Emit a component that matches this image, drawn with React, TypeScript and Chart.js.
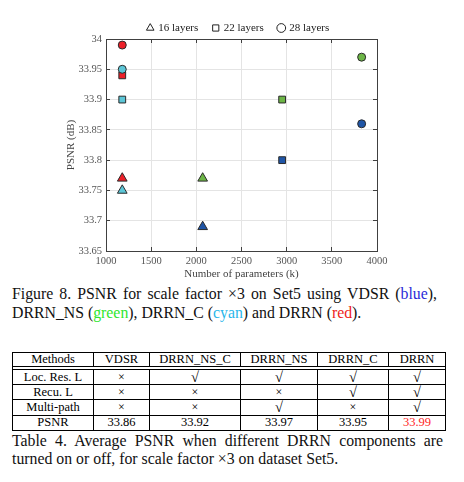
import React, { useEffect, useRef } from 'react';
import { Chart, registerables } from 'chart.js';

Chart.register(...registerables);

const SERIF = "'Liberation Serif', 'Times New Roman', serif";

// methods and their colours
const methodNames = ['VDSR', 'DRRN_NS', 'DRRN_C', 'DRRN'];
const methodColors = ['#1f55a6', '#6cb546', '#5cc6d7', '#ec1f28'];

// depth groups (legend)
const layerLabels = ['16 layers', '22 layers', '28 layers'];
const layerShapes = ['triangle', 'rect', 'circle'];
const layerRadii = [5.6, 4.8, 4];
const layerOrder = [2, 1, 0];

// number of parameters (k) and PSNR per method, depths 16 / 22 / 28
const vdsrParams = [2070, 2950, 3830];
const vdsrPsnr = [33.69, 33.8, 33.86];
const nsParams = [2070, 2950, 3830];
const nsPsnr = [33.77, 33.9, 33.97];
const cParams = [1180, 1180, 1180];
const cPsnr = [33.75, 33.9, 33.95];
const drrnParams = [1180, 1180, 1180];
const drrnPsnr = [33.77, 33.94, 33.99];

const xTickLabels = ['1000', '1500', '2000', '2500', '3000', '3500', '4000'];
const yTickLabels = ['33.65', '33.7', '33.75', '33.8', '33.85', '33.9', '33.95', '34'];

// table
const tableHeaders = ['Methods', 'VDSR', 'DRRN_NS_C', 'DRRN_NS', 'DRRN_C', 'DRRN'];
const rowLocRes = ['Loc. Res. L', '×', '√', '√', '√', '√'];
const rowRecu = ['Recu. L', '×', '×', '×', '√', '√'];
const rowMulti = ['Multi-path', '×', '×', '√', '×', '√'];
const rowPsnr = ['PSNR', '33.86', '33.92', '33.97', '33.95', '33.99'];
const colWidths = [81, 56, 91, 77, 71, 57];

const AXIS = '#404040';
const GRID = '#e4e4e4';

function ChartBox() {
  const ref = useRef<HTMLCanvasElement | null>(null);
  useEffect(() => {
    if (!ref.current) return;
    const params = [vdsrParams, nsParams, cParams, drrnParams];
    const psnr = [vdsrPsnr, nsPsnr, cPsnr, drrnPsnr];
    const datasets = layerLabels.map((label, li) => ({
      label,
      data: methodNames.map((_, mi) => ({ x: params[mi][li], y: psnr[mi][li] })),
      pointStyle: layerShapes[li],
      pointRadius: layerRadii[li],
      pointBackgroundColor: methodColors,
      pointBorderColor: '#2a2a2a',
      pointBorderWidth: 1,
      order: layerOrder[li],
      xAxisID: 'x',
      yAxisID: 'y',
    }));
    const tickFont = { family: SERIF, size: 10.5 };
    const chart = new Chart(ref.current, {
      type: 'scatter',
      data: { datasets: datasets as any },
      options: {
        animation: false,
        responsive: false,
        events: [],
        layout: { padding: { left: 13, right: 0, top: 7.5, bottom: 0 } },
        plugins: {
          tooltip: { enabled: false },
          legend: {
            display: true,
            position: 'top',
            maxHeight: 31.5,
            labels: {
              usePointStyle: true,
              boxWidth: 5,
              boxHeight: 6.2,
              padding: 15,
              color: '#222',
              font: { family: SERIF, size: 11 },
              generateLabels: () =>
                layerLabels.map((t, i) => ({
                  text: t,
                  fillStyle: '#ffffff',
                  strokeStyle: '#222',
                  lineWidth: 1,
                  pointStyle: layerShapes[i] as any,
                  hidden: false,
                  datasetIndex: i,
                  fontColor: '#222',
                })),
            },
          },
        },
        scales: {
          x: {
            type: 'linear',
            position: 'bottom',
            min: 1000,
            max: 4000,
            ticks: {
              stepSize: 500,
              padding: 8,
              color: '#555',
              font: tickFont,
              callback: (_v: any, i: number) => xTickLabels[i],
            },
            grid: { color: GRID, tickColor: AXIS, tickLength: -4, drawTicks: true },
            border: { color: AXIS, width: 1 },
            title: {
              display: true,
              text: 'Number of parameters (k)',
              color: '#444',
              font: { family: SERIF, size: 11 },
              padding: { top: 4, bottom: 4 },
            },
            afterFit: (s: any) => { s.height = 34; },
          },
          x2: {
            type: 'linear',
            position: 'top',
            min: 1000,
            max: 4000,
            ticks: { stepSize: 500, display: false },
            grid: { drawOnChartArea: false, tickColor: AXIS, tickLength: -4, drawTicks: true },
            border: { color: AXIS, width: 1 },
            afterFit: (s: any) => { s.height = 0; },
          },
          y: {
            type: 'linear',
            position: 'left',
            min: 33.65,
            max: 34,
            ticks: {
              stepSize: 0.05,
              padding: 8,
              color: '#555',
              font: tickFont,
              callback: (_v: any, i: number) => yTickLabels[i],
            },
            grid: { color: GRID, tickColor: AXIS, tickLength: -4, drawTicks: true },
            border: { color: AXIS, width: 1 },
            title: {
              display: true,
              text: 'PSNR (dB)',
              color: '#444',
              font: { family: SERIF, size: 11 },
              padding: { top: 51.4, bottom: 4 },
            },
            afterFit: (s: any) => { s.width = 93; },
          },
          y2: {
            type: 'linear',
            position: 'right',
            min: 33.65,
            max: 34,
            ticks: { stepSize: 0.05, display: false },
            grid: { drawOnChartArea: false, tickColor: AXIS, tickLength: -4, drawTicks: true },
            border: { color: AXIS, width: 1 },
            afterFit: (s: any) => { s.width = 87; },
          },
        },
      } as any,
    });
    return () => chart.destroy();
  }, []);
  return (
    <canvas
      ref={ref}
      width={464}
      height={285}
      style={{ position: 'absolute', left: 0, top: 0, width: 464, height: 285, display: 'block' }}
    />
  );
}

const cellStyle: React.CSSProperties = {
  border: '1px solid #000',
  padding: 0,
  textAlign: 'center',
  lineHeight: '13px',
  overflow: 'hidden',
  whiteSpace: 'nowrap',
};

function Row({ cells, height, red }: { cells: string[]; height: number; red?: boolean }) {
  return (
    <tr style={{ height }}>
      {cells.map((c, i) => (
        <td
          key={i}
          style={{
            ...cellStyle,
            height: height - 1,
            color: red && i === cells.length - 1 ? '#ff1f1f' : '#000',
            fontSize: c === '√' ? 14.5 : c === '×' ? 12 : 12.5,
          }}
        >
          {c}
        </td>
      ))}
    </tr>
  );
}

export default function App() {
  const captionStyle: React.CSSProperties = {
    position: 'absolute',
    left: 12,
    width: 431,
    fontFamily: SERIF,
    fontSize: 15.8,
    lineHeight: '18.5px',
    textAlign: 'justify',
    color: '#111',
    margin: 0,
  };
  return (
    <div style={{ position: 'absolute', left: 0, top: 0, width: 464, height: 482, background: '#fff', overflow: 'hidden' }}>
      <ChartBox />
      <div style={{ ...captionStyle, top: 285.1, width: 425 }}>
        Figure 8. PSNR for scale factor ×3 on Set5 using VDSR (<span style={{ color: '#2a2ad8' }}>blue</span>),
        DRRN_NS (<span style={{ color: '#2ee62e' }}>green</span>), DRRN_C (<span style={{ color: '#27b6ea' }}>cyan</span>) and DRRN (<span style={{ color: '#ee1c1c' }}>red</span>).
      </div>
      <table
        style={{
          position: 'absolute',
          left: 12,
          top: 351.5,
          width: 433,
          borderCollapse: 'collapse',
          tableLayout: 'fixed',
          fontFamily: SERIF,
          fontSize: 12.5,
        }}
      >
        <colgroup>
          {colWidths.map((w, i) => (
            <col key={i} style={{ width: w }} />
          ))}
        </colgroup>
        <tbody>
          <Row cells={tableHeaders} height={14.5} />
          <tr style={{ height: 3 }}>
            <td colSpan={6} style={{ borderLeft: '1px solid #000', borderRight: '1px solid #000', padding: 0, height: 2, fontSize: 0, lineHeight: 0 }} />
          </tr>
          <Row cells={rowLocRes} height={15} />
          <Row cells={rowRecu} height={15} />
          <Row cells={rowMulti} height={15.5} />
          <Row cells={rowPsnr} height={15} red />
        </tbody>
      </table>
      <div style={{ ...captionStyle, top: 431.7 }}>
        Table 4. Average PSNR when different DRRN components are turned on or off, for scale factor ×3 on dataset Set5.
      </div>
    </div>
  );
}
